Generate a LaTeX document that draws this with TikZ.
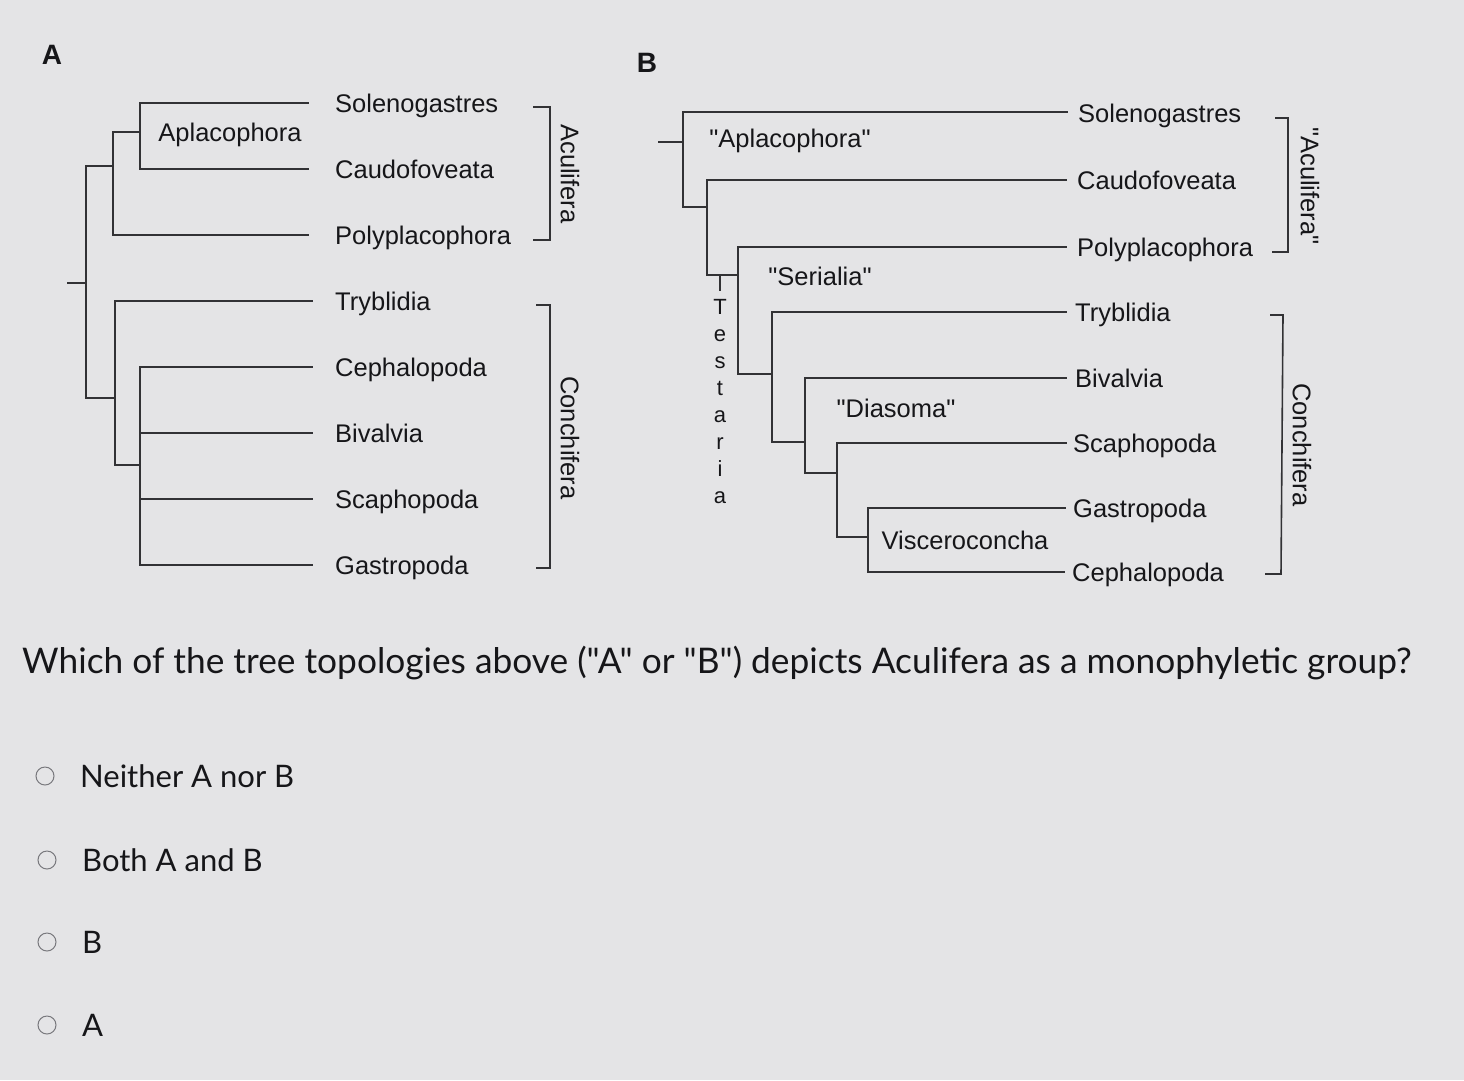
\documentclass[tikz,border=0pt]{standalone}
\usepackage{fontspec}
\newfontfamily\helv{Liberation Sans}
\newfontfamily\latofont{Lato}
\definecolor{bg}{RGB}{228,228,230}
\definecolor{linec}{RGB}{50,50,53}
\definecolor{txt}{RGB}{22,22,25}
\definecolor{circ}{RGB}{120,120,125}
\begin{document}
\begin{tikzpicture}[x=1pt,y=-1pt,
  br/.style={line width=1.9pt, draw=linec},
  brk/.style={line width=1.6pt, draw=linec},
  leaf/.style={anchor=base west, inner sep=0pt, font=\helv\fontsize{25.5}{28}\selectfont, text=txt},
  clade/.style={inner sep=0pt, font=\helv\fontsize{25.5}{28}\selectfont, text=txt},
  side/.style={inner sep=0pt, rotate=-90, font=\helv\fontsize{25.5}{28}\selectfont, text=txt},
  panel/.style={inner sep=0pt, font=\helv\bfseries\fontsize{28}{30}\selectfont, text=txt},
  opt/.style={anchor=west, inner sep=0pt, font=\latofont\fontsize{31}{34}\selectfont, text=txt},
  radio/.style={circle, draw=circ, line width=1pt, minimum size=18pt, inner sep=0pt}
]
\fill[bg] (0,0) rectangle (1464,1080);
\useasboundingbox (0,0) rectangle (1464,1080);

% ---------------- Tree A ----------------
\node[panel] (pA) at (52,55) {A};
\node[leaf] (aS)  at (335,112) {Solenogastres};
\node[leaf] (aC)  at (335,178) {Caudofoveata};
\node[leaf] (aP)  at (335,244) {Polyplacophora};
\node[leaf] (aT)  at (335,310) {Tryblidia};
\node[leaf] (aCe) at (335,376) {Cephalopoda};
\node[leaf] (aB)  at (335,442) {Bivalvia};
\node[leaf] (aSc) at (335,508) {Scaphopoda};
\node[leaf] (aG)  at (335,574) {Gastropoda};

\coordinate (aRootStem) at (67,283);
\coordinate (aRoot) at (86,283);
\coordinate (aAcu)  at (113,166);
\coordinate (aApl)  at (140,132);
\coordinate (aCon)  at (115,398);
\coordinate (aPol)  at (140,465);

\draw[br] (aRootStem) -- (aRoot);
\draw[br] (aRoot) |- (aAcu);
\draw[br] (aRoot) |- (aCon);
\draw[br] (aAcu) |- (aApl);
\draw[br] (aAcu) |- ([shift={(-26pt,9pt)}]aP.base west);
\draw[br] (aApl) |- ([shift={(-26pt,9pt)}]aS.base west);
\draw[br] (aApl) |- ([shift={(-26pt,9pt)}]aC.base west);
\draw[br] (aCon) |- ([shift={(-22pt,9pt)}]aT.base west);
\draw[br] (aCon) |- (aPol);
\draw[br] (aPol) |- ([shift={(-22pt,9pt)}]aCe.base west);
\draw[br] (aPol) |- ([shift={(-22pt,9pt)}]aB.base west);
\draw[br] (aPol) |- ([shift={(-22pt,9pt)}]aSc.base west);
\draw[br] (aPol) |- ([shift={(-22pt,9pt)}]aG.base west);

\node[clade] (aAplL) at (230,135) {Aplacophora};

\draw[brk] (533,107) -- (550,107) -- (550,240) -- (533,240);
\node[side] (aAcuL) at (570,174) {Aculifera};
\draw[brk] (536,305) -- (550,305) -- (550,568) -- (536,568);
\node[side] (aConL) at (570,438) {Conchifera};

% ---------------- Tree B ----------------
\node[panel] (pB) at (647,63) {B};
\node[leaf] (bS)  at (1078,122) {Solenogastres};
\node[leaf] (bC)  at (1077,189) {Caudofoveata};
\node[leaf] (bP)  at (1077,256) {Polyplacophora};
\node[leaf] (bT)  at (1075,321) {Tryblidia};
\node[leaf] (bB)  at (1075,387) {Bivalvia};
\node[leaf] (bSc) at (1073,452) {Scaphopoda};
\node[leaf] (bG)  at (1073,517) {Gastropoda};
\node[leaf] (bCe) at (1072,581) {Cephalopoda};

\coordinate (bRootStem) at (658,142);
\coordinate (bRoot) at (683,142);
\coordinate (bN1) at (707,207);
\coordinate (bN2) at (738,275);
\coordinate (bN3) at (772,374);
\coordinate (bN4) at (805,442);
\coordinate (bN5) at (837,473);
\coordinate (bN6) at (868,537);

\draw[br] (bRootStem) -- (bRoot);
\draw[br] (bRoot) |- ([shift={(-10pt,10pt)}]bS.base west);
\draw[br] (bRoot) |- (bN1);
\draw[br] (bN1) |- ([shift={(-10pt,9pt)}]bC.base west);
\draw[br] (bN1) |- (bN2);
\draw[br] (bN2) |- ([shift={(-10pt,9pt)}]bP.base west);
\draw[br] (bN2) |- (bN3);
\draw[br] (bN3) |- ([shift={(-8pt,9pt)}]bT.base west);
\draw[br] (bN3) |- (bN4);
\draw[br] (bN4) |- ([shift={(-8pt,9pt)}]bB.base west);
\draw[br] (bN4) |- (bN5);
\draw[br] (bN5) |- ([shift={(-6pt,9pt)}]bSc.base west);
\draw[br] (bN5) |- (bN6);
\draw[br] (bN6) |- ([shift={(-7pt,9pt)}]bG.base west);
\draw[br] (bN6) |- ([shift={(-7pt,9pt)}]bCe.base west);

\node[clade] (bAplL) at (790,141) {"Aplacophora"};
\node[clade] (bSerL) at (820,276) {"Serialia"};
\node[clade] (bDiaL) at (896,408) {"Diasoma"};
\node[clade] (bVisL) at (965,540) {Visceroconcha};

\coordinate (tickTop) at (720,275);
\coordinate (tickBot) at (720,291);
\draw[line width=1.2pt, draw=linec] (tickTop) -- (tickBot);
\node[inner sep=0pt, align=center, text=txt, font=\helv\fontsize{22}{27}\selectfont] (bTes) at (720,402) {T\\e\\s\\t\\a\\r\\i\\a};

\draw[brk] (1275,118) -- (1288,118) -- (1288,252) -- (1272,252);
\node[side] (bAcuL) at (1310,186) {"Aculifera"};
\draw[brk] (1270,315) -- (1283,315) -- (1281,574) -- (1265,574);
\node[side] (bConL) at (1302,445) {Conchifera};

% ---------------- Question ----------------
\node[anchor=west, inner sep=0pt, text=txt, font=\latofont\fontsize{35.3}{40}\selectfont] (q) at (22,663)
  {Which of the tree topologies above ("A" or "B") depicts Aculifera as a monophyletic group?};

\node[radio] (r1) at (45,776) {};
\node[opt] (o1) at (80,776) {Neither A nor B};
\node[radio] (r2) at (47,860) {};
\node[opt] (o2) at (82,860) {Both A and B};
\node[radio] (r3) at (47,942) {};
\node[opt] (o3) at (82,942) {B};
\node[radio] (r4) at (47,1025) {};
\node[opt] (o4) at (82,1025) {A};
\end{tikzpicture}
\end{document}
